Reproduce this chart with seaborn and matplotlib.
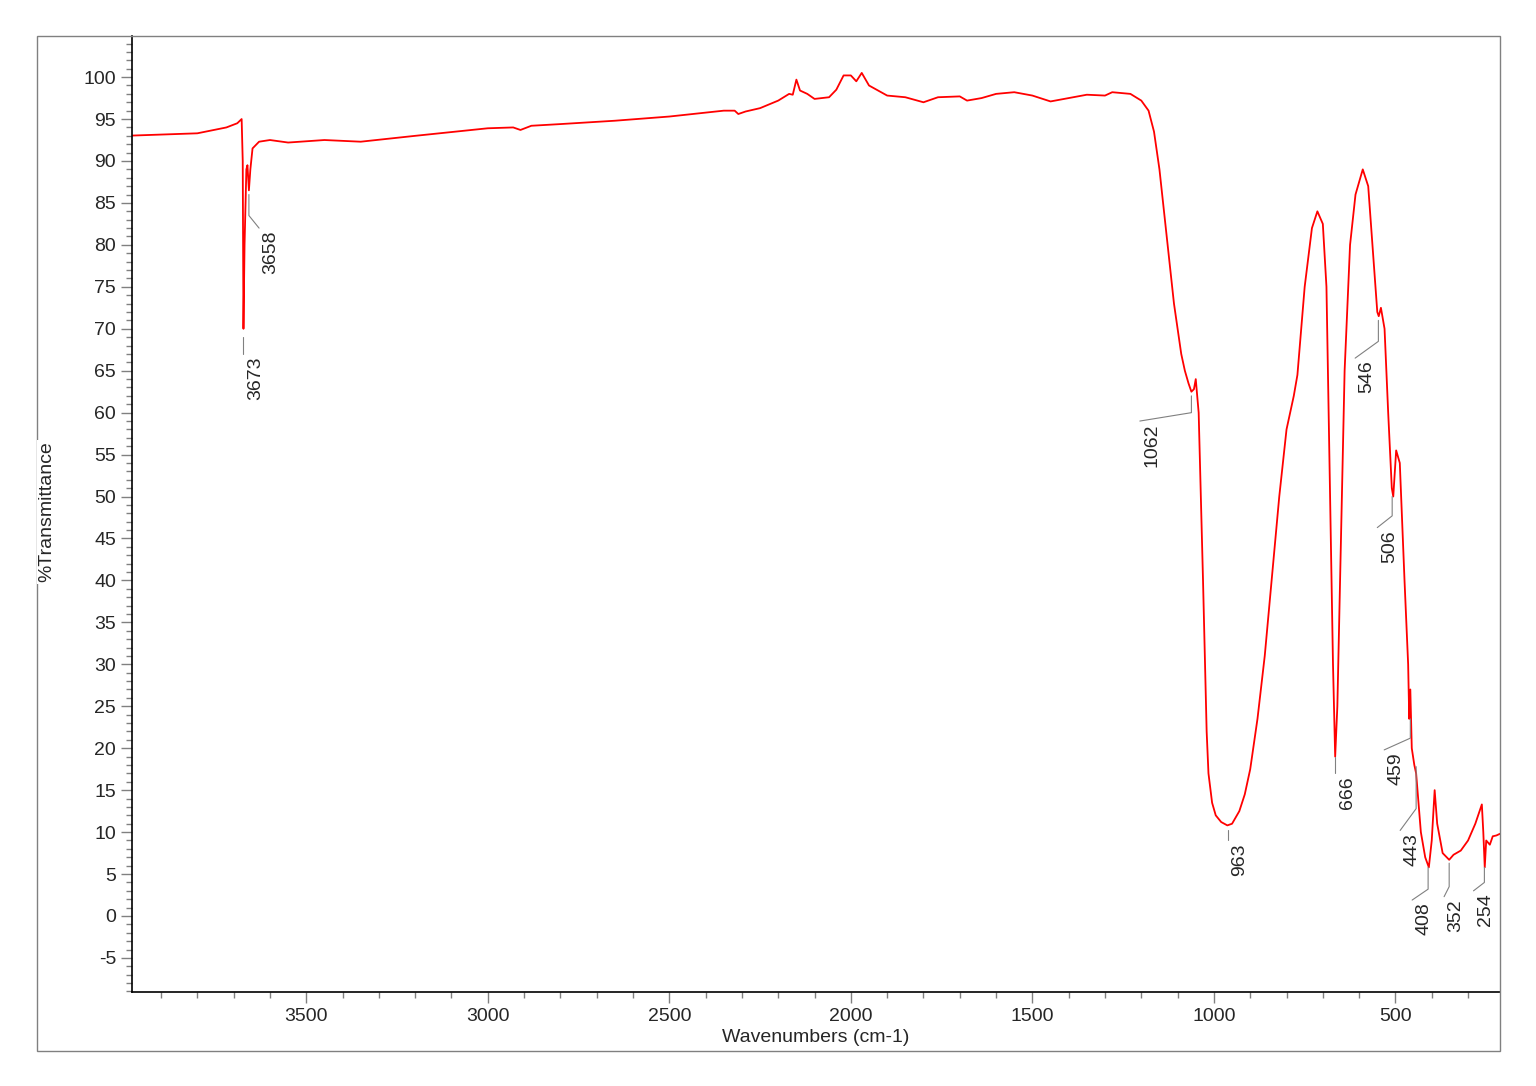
import matplotlib
matplotlib.use("Agg")
import matplotlib.pyplot as plt
from matplotlib.patches import Rectangle
from matplotlib.ticker import MultipleLocator
import numpy as np
import pandas as pd
import seaborn as sns

sns.set_style("white")
plt.rcParams['font.family'] = ['Liberation Sans', 'DejaVu Sans']
plt.rcParams['axes.unicode_minus'] = False

wavenumber = [4000, 3800, 3720, 3690, 3678, 3675, 3673, 3670, 3665, 3662, 3658, 3654, 3648, 3630,
              3600, 3550, 3450, 3350, 3200, 3000, 2930, 2910, 2880, 2800, 2650, 2500, 2350, 2320,
              2310, 2290, 2250, 2200, 2170, 2160, 2150, 2140, 2120, 2100, 2060, 2040, 2020, 2000,
              1985, 1970, 1950, 1900, 1850, 1800, 1760, 1700, 1680, 1640, 1600, 1550, 1500, 1450,
              1400, 1350, 1300, 1280, 1230, 1200, 1180, 1165, 1150, 1140, 1130, 1120, 1110, 1100,
              1090, 1080, 1070, 1062, 1055, 1050, 1042, 1030, 1020, 1015, 1005, 995, 980, 963, 950,
              930, 915, 900, 880, 860, 840, 820, 800, 780, 770, 750, 730, 715, 700, 690, 680, 672,
              666, 660, 650, 640, 625, 610, 590, 575, 560, 550, 546, 540, 530, 520, 510, 506, 498,
              488, 475, 465, 462, 459, 455, 448, 443, 430, 418, 408, 400, 392, 385, 370, 352, 340,
              320, 300, 280, 262, 258, 254, 250, 240, 232, 222, 212]
transmittance = [93.0, 93.3, 94.0, 94.5, 95.0, 90.0, 70.0, 80.0, 89.0, 89.5, 86.5, 89.0, 91.5, 92.3,
                 92.5, 92.2, 92.5, 92.3, 93.0, 93.9, 94.0, 93.7, 94.2, 94.4, 94.8, 95.3, 96.0, 96.0,
                 95.6, 95.9, 96.3, 97.2, 98.0, 97.9, 99.7, 98.4, 98.0, 97.4, 97.6, 98.5, 100.2, 100.2,
                 99.5, 100.5, 99.0, 97.8, 97.6, 97.0, 97.6, 97.7, 97.2, 97.5, 98.0, 98.2, 97.8, 97.1,
                 97.5, 97.9, 97.8, 98.2, 98.0, 97.2, 96.0, 93.5, 89.0, 85.0, 81.0, 77.0, 73.0, 70.0,
                 67.0, 65.0, 63.5, 62.5, 62.8, 64.0, 60.0, 40.0, 22.0, 17.0, 13.5, 12.0, 11.2, 10.8,
                 11.0, 12.5, 14.5, 17.5, 23.5, 31.0, 40.5, 50.0, 58.0, 62.0, 64.5, 75.0, 82.0, 84.0,
                 82.5, 75.0, 50.0, 30.0, 19.0, 25.0, 45.0, 65.0, 80.0, 86.0, 89.0, 87.0, 78.0, 72.0,
                 71.5, 72.5, 70.0, 60.0, 51.0, 50.0, 55.5, 54.0, 40.0, 30.0, 23.5, 27.0, 20.0, 18.0,
                 17.0, 10.0, 7.0, 5.8, 9.0, 15.0, 11.0, 7.5, 6.7, 7.3, 7.8, 9.0, 11.0, 13.3, 10.0,
                 5.8, 9.0, 8.5, 9.5, 9.6, 9.8]

peak_labels = ["3673", "3658", "1062", "963", "666", "546", "506", "459", "443", "408", "352", "254"]
peak_wn = [3673, 3658, 1062, 961, 666, 547, 509, 459, 443, 410, 352, 255]
peak_t = [69.0, 86.0, 62.0, 10.3, 19.0, 71.0, 50.0, 23.5, 17.8, 5.8, 6.3, 5.8]
elbow_t = [67.0, 83.5, 60.0, 9.0, 17.0, 68.5, 47.7, 21.2, 12.8, 3.2, 3.5, 4.0]
end_wn = [3673, 3630, 1204, 961, 666, 611, 550, 531, 487, 454, 366, 285]
end_t = [67.0, 82.0, 59.0, 9.0, 17.0, 66.5, 46.3, 19.8, 10.2, 1.9, 2.3, 3.0]

df = pd.DataFrame({"wn": wavenumber, "t": transmittance})

fig = plt.figure(figsize=(15.36, 10.86), dpi=100)
ax = fig.add_axes([132/1536, 1 - 992/1086, (1500-132)/1536, (992-36)/1086])
sns.lineplot(data=df, x="wn", y="t", sort=False, color="red", linewidth=1.3, ax=ax)
ax.set_xlim(3980, 212)
ax.set_ylim(-9.06, 104.9)

off = 33  # text offset in wavenumber units
for lab, pw, pt, et, ew, ent in zip(peak_labels, peak_wn, peak_t, elbow_t, end_wn, end_t):
    ax.plot([pw, pw, ew], [pt, et, ent], color="gray", lw=0.8)
    ax.text(ew - off, ent - 0.3, lab, rotation=90, ha="center", va="top", fontsize=14)

ax.xaxis.set_major_locator(MultipleLocator(500))
ax.xaxis.set_minor_locator(MultipleLocator(100))
ax.yaxis.set_major_locator(MultipleLocator(5))
ax.yaxis.set_minor_locator(MultipleLocator(1))
ax.set_yticks(np.arange(-5, 101, 5))
ax.set_xticks(np.arange(500, 3501, 500))
ax.tick_params(axis="both", which="major", direction="out", length=8, width=1, color="gray",
               labelsize=14, bottom=True, left=True)
ax.tick_params(axis="both", which="minor", direction="out", length=4, width=1, color="gray",
               bottom=True, left=True)
for s in ["top", "right"]:
    ax.spines[s].set_visible(False)
for s in ["left", "bottom"]:
    ax.spines[s].set_color("black")
    ax.spines[s].set_linewidth(1.2)
ax.set_xlabel("")
ax.set_ylabel("")

fig.patches.append(Rectangle((37/1536, 1 - 1051/1086), (1500-37)/1536, (1051-36)/1086,
                             transform=fig.transFigure, fill=False, edgecolor="gray", lw=1))
fig.text(47/1536, 1 - 512/1086, "%Transmittance", rotation=90, ha="center", va="center",
         fontsize=14, bbox=dict(facecolor="white", edgecolor="none", pad=1))
fig.text(816/1536, 1 - 1038/1086, "Wavenumbers (cm-1)", ha="center", va="center", fontsize=14)

fig.savefig("out.png", dpi=100)
